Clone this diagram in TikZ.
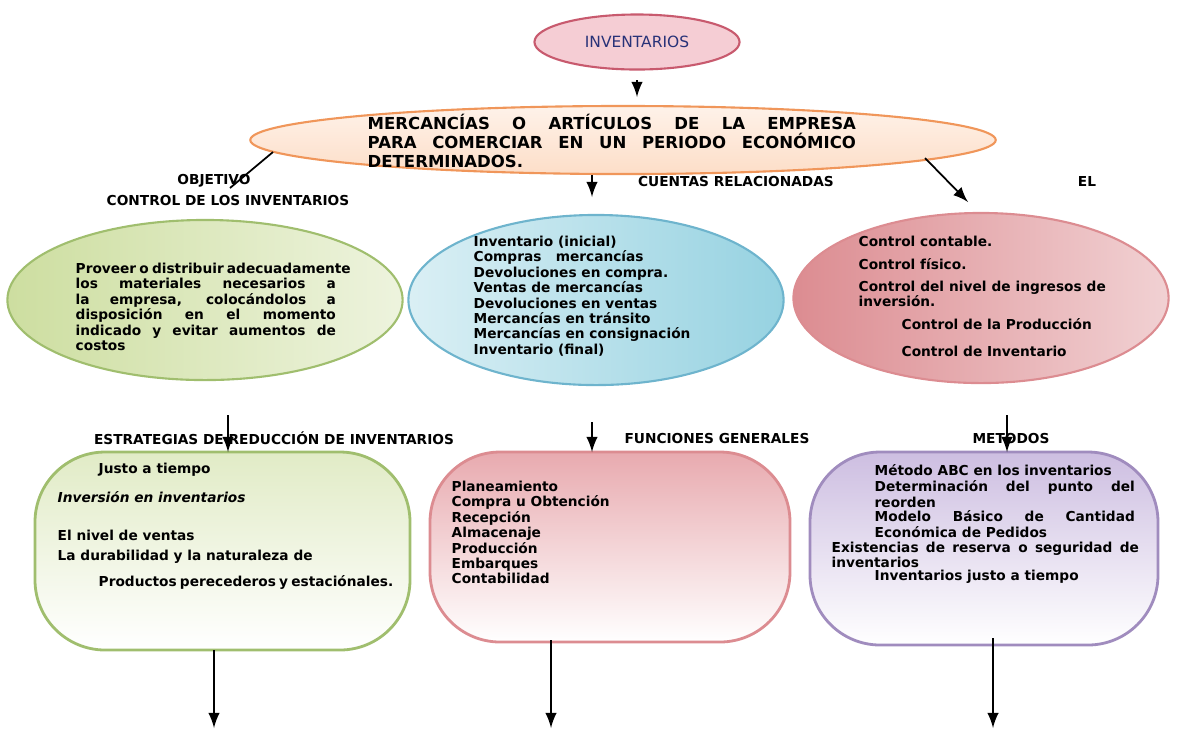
\documentclass[tikz,border=0pt]{standalone}
\usepackage{fontspec}
\setmainfont{DejaVu Sans}
\usetikzlibrary{shapes.geometric,positioning}
\definecolor{rimPink}{RGB}{200,90,110}
\definecolor{fillPink}{RGB}{245,205,212}
\definecolor{fillPeach}{RGB}{253,222,200}
\definecolor{rimPeach}{RGB}{240,150,90}
\definecolor{fillGreen}{RGB}{205,222,160}
\definecolor{rimGreen}{RGB}{160,190,110}
\definecolor{fillBlue}{RGB}{150,210,225}
\definecolor{rimBlue}{RGB}{110,180,205}
\definecolor{fillRed}{RGB}{220,140,145}
\definecolor{fillRose}{RGB}{232,170,175}
\definecolor{fillLilac}{RGB}{205,190,225}
\definecolor{rimLilac}{RGB}{160,140,190}
\definecolor{titleBlue}{RGB}{40,50,120}
\tikzset{
  blob/.style={ellipse,draw,line width=0.6pt,inner sep=0pt},
  card/.style={draw,rounded corners=7mm,line width=0.8pt},
  txt/.style={font=\fontsize{3.9}{4.4}\selectfont\bfseries,inner sep=0pt,
    execute at begin node={\hyphenpenalty=10000\exhyphenpenalty=10000\tolerance=9999\emergencystretch=3pt}},
  head/.style={txt,anchor=center},
  arr/.style={-latex,line width=0.5pt}
}
\begin{document}
\begin{tikzpicture}[x=0.01cm,y=-0.01cm]
\useasboundingbox (0,0) rectangle (1200,729);
% top
\node[blob,draw=rimPink,fill=fillPink,minimum width=2.05cm,minimum height=0.55cm,
  font=\fontsize{4.4}{5}\selectfont,text=titleBlue] (inv) at (637,42) {INVENTARIOS};
\node[blob,draw=rimPeach,top color=fillPeach!40,bottom color=fillPeach,minimum width=7.45cm,minimum height=0.68cm] (merc) at (623,140) {};
\node[txt,font=\fontsize{4.7}{5.4}\selectfont\bfseries,text width=4.88cm,align=justify,anchor=north west] (mercT) at (367,113)
  {MERCANCÍAS O ARTÍCULOS DE LA EMPRESA PARA COMERCIAR EN UN PERIODO ECONÓMICO DETERMINADOS.};
\coordinate (i1) at (637,80); \coordinate (i2) at (637,97);
\draw[arr] (i1) -- (i2);
% headings
\node[head] (obj) at (214,181) {OBJETIVO};
\node[head] (ctl) at (228,200) {CONTROL DE LOS INVENTARIOS};
\node[head] (cta) at (736,181) {CUENTAS RELACIONADAS};
\node[head] (el) at (1087,181) {EL};
\coordinate (m1) at (273,152);
\coordinate (m2) at (592,175);
\coordinate (m3) at (925,158);
% ellipses
\node[blob,draw=rimGreen,left color=fillGreen,right color=fillGreen!35,minimum width=3.95cm,minimum height=1.6cm] (goal) at (205,300) {};
\node[blob,draw=rimBlue,left color=fillBlue!35,right color=fillBlue,minimum width=3.75cm,minimum height=1.7cm] (acct) at (596,300) {};
\node[blob,draw=fillRed,left color=fillRed,right color=fillRed!40,minimum width=3.75cm,minimum height=1.7cm] (ctrl) at (981,298) {};
\draw[line width=0.5pt] (m1) -- (230,188);
\draw[arr] (m2) -- (592,197);
\draw[arr] (m3) -- (968,202);
\node[txt,text width=2.6cm,align=justify,anchor=north west] (goalT) at (75,262)
  {Proveer o distribuir adecuadamente los materiales necesarios a la empresa, colocándolos a disposición en el momento indicado y evitar aumentos de costos};
\node[txt,align=left,anchor=north west] (acctT) at (473,235)
  {Inventario (inicial)\\Compras\ \ \ mercancías\\Devoluciones en compra.\\Ventas de mercancías\\Devoluciones en ventas\\Mercancías en tránsito\\Mercancías en consignación\\Inventario (final)};
\node[txt,anchor=west] (c1) at (858,241) {Control contable.};
\node[txt,anchor=west] (c2) at (858,264) {Control físico.};
\node[txt,text width=2.47cm,align=justify,anchor=north west] (c3) at (858,280) {Control del nivel de ingresos de inversión.};
\node[txt,anchor=west] (c4) at (901,324) {Control de la Producción};
\node[txt,anchor=west] (c5) at (901,351) {Control de Inventario};
% second headings
\node[head] (est) at (274,438) {ESTRATEGIAS DE REDUCCIÓN DE INVENTARIOS};
\node[head] (fun) at (717,438) {FUNCIONES GENERALES};
\node[head] (met) at (1011,438) {METODOS};
% cards
\draw[card,draw=rimGreen,top color=fillGreen!60,bottom color=white] (35,452) rectangle (410,650);
\draw[card,draw=fillRed,top color=fillRose,bottom color=white] (430,452) rectangle (790,642);
\draw[card,draw=rimLilac,top color=fillLilac,bottom color=white] (810,452) rectangle (1158,645);
\coordinate (g1) at (228,415); \coordinate (g2) at (228,452);
\coordinate (b1) at (592,422); \coordinate (b2) at (592,452);
\coordinate (r1) at (1007,415); \coordinate (r2) at (1007,452);
\draw[arr] (g1) -- (g2);
\draw[arr] (b1) -- (b2);
\draw[arr] (r1) -- (r2);
\node[txt,anchor=west] (s1) at (98,470) {Justo a tiempo};
\node[txt,anchor=west,font=\fontsize{3.9}{4.4}\selectfont\bfseries\itshape] (s2) at (57,497) {Inversión en inventarios};
\node[txt,anchor=west] (s3) at (57,535) {El nivel de ventas};
\node[txt,anchor=west] (s4) at (57,557) {La durabilidad y la naturaleza de};
\node[txt,text width=2.9cm,align=justify,anchor=north west] (s5) at (98,575) {Productos perecederos y estaciónales.};
\node[txt,align=left,anchor=north west] (funT) at (451,480)
  {Planeamiento\\Compra u Obtención\\Recepción\\Almacenaje\\Producción\\Embarques\\Contabilidad};
\node[txt,anchor=west] (t1) at (874,470) {Método ABC en los inventarios};
\node[txt,text width=2.6cm,align=justify,anchor=north west] (t2) at (874,480) {Determinación del punto del reorden};
\node[txt,text width=2.6cm,align=justify,anchor=north west] (t3) at (874,510) {Modelo Básico de Cantidad Económica de Pedidos};
\node[txt,text width=3.07cm,align=justify,anchor=north west] (t4) at (831,541) {Existencias de reserva o seguridad de inventarios};
\node[txt,anchor=west] (t5) at (874,577) {Inventarios justo a tiempo};
% bottom arrows
\coordinate (e1) at (214,650); \coordinate (e2) at (214,728);
\coordinate (f1) at (551,640); \coordinate (f2) at (551,728);
\coordinate (h1) at (993,638); \coordinate (h2) at (993,728);
\draw[arr] (e1) -- (e2);
\draw[arr] (f1) -- (f2);
\draw[arr] (h1) -- (h2);
\end{tikzpicture}
\end{document}
